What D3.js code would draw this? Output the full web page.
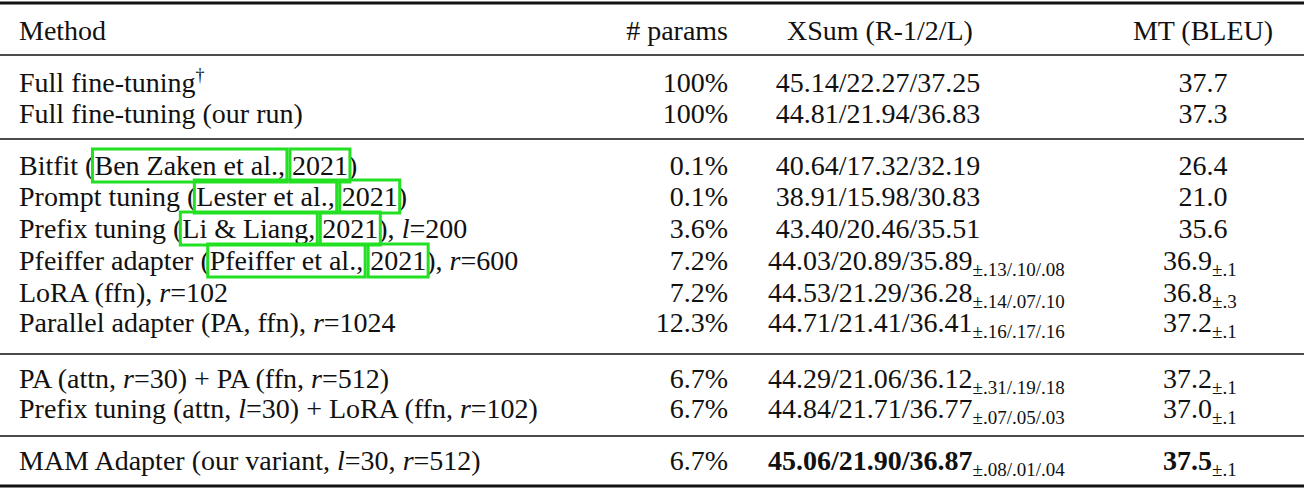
<!DOCTYPE html>
<html><head><meta charset="utf-8">
<script src="https://cdn.jsdelivr.net/npm/d3@7"></script>
<style>body{margin:0;background:#fff}svg text{font-family:"Liberation Serif","DejaVu Serif",serif;fill:#111}</style>
</head><body><svg id="c" width="1304" height="489"></svg>
<script>
const headers = ["Method", "# params", "XSum (R-1/2/L)", "MT (BLEU)"];
const methods = [
  [["Full fine-tuning","n"],["†","s"]],
  [["Full fine-tuning (our run)","n"]],
  [["Bitfit (","n"],["Ben Zaken et al.,","b"],[" ","n"],["2021","b"],[")","n"]],
  [["Prompt tuning (","n"],["Lester et al.,","b"],[" ","n"],["2021","b"],[")","n"]],
  [["Prefix tuning (","n"],["Li & Liang,","b"],[" ","n"],["2021","b"],["), ","n"],["l","i"],["=200","n"]],
  [["Pfeiffer adapter (","n"],["Pfeiffer et al.,","b"],[" ","n"],["2021","b"],["), ","n"],["r","i"],["=600","n"]],
  [["LoRA (ffn), ","n"],["r","i"],["=102","n"]],
  [["Parallel adapter (PA, ffn), ","n"],["r","i"],["=1024","n"]],
  [["PA (attn, ","n"],["r","i"],["=30) + PA (ffn, ","n"],["r","i"],["=512)","n"]],
  [["Prefix tuning (attn, ","n"],["l","i"],["=30) + LoRA (ffn, ","n"],["r","i"],["=102)","n"]],
  [["MAM Adapter (our variant, ","n"],["l","i"],["=30, ","n"],["r","i"],["=512)","n"]]
];
const params = ["100%","100%","0.1%","0.1%","3.6%","7.2%","7.2%","12.3%","6.7%","6.7%","6.7%"];
const xsum = ["45.14/22.27/37.25","44.81/21.94/36.83","40.64/17.32/32.19","38.91/15.98/30.83","43.40/20.46/35.51","44.03/20.89/35.89","44.53/21.29/36.28","44.71/21.41/36.41","44.29/21.06/36.12","44.84/21.71/36.77","45.06/21.90/36.87"];
const xsumStd = ["","","","","","±.13/.10/.08","±.14/.07/.10","±.16/.17/.16","±.31/.19/.18","±.07/.05/.03","±.08/.01/.04"];
const mt = ["37.7","37.3","26.4","21.0","35.6","36.9","36.8","37.2","37.2","37.0","37.5"];
const mtStd = ["","","","","","±.1","±.3","±.1","±.1","±.1","±.1"];
const boldRows = [10];
const rowY = [82,113,165,196,228,260,292,322,378,408,460];
const rules = [[3,3],[55,1.5],[139,1.5],[354,1.5],[436,1.5],[486,3]];

const svg = d3.select("#c");
const FS = 28, SUB = 19;
svg.selectAll("line.r").data(rules).join("line").attr("x1",0).attr("x2",1304)
  .attr("y1",d=>d[0]).attr("y2",d=>d[0]).attr("stroke","#111").attr("stroke-width",d=>d[1]);

const hy = 30;
const hx = [{x:19,a:"start"},{x:728,a:"end"},{x:880,a:"middle"},{x:1203,a:"middle"}];
headers.forEach((h,i)=>svg.append("text").attr("x",hx[i].x).attr("y",hy+10).attr("text-anchor",hx[i].a).attr("font-size",FS).text(h));

methods.forEach((segs,r)=>{
  const t = svg.append("text").attr("x",19).attr("y",rowY[r]+10).attr("font-size",FS);
  segs.forEach(s=>{
    const ts = t.append("tspan").text(s[0]);
    if(s[1]==="i") ts.attr("font-style","italic");
    if(s[1]==="s") ts.attr("font-size",18).attr("dy",-11);
  });
  let idx=0;
  const node=t.node();
  segs.forEach(s=>{
    const len=s[0].length;
    if(s[1]==="b"){
      const x0=node.getStartPositionOfChar(idx).x, x1=node.getEndPositionOfChar(idx+len-1).x;
      svg.append("rect").attr("x",x0-2).attr("y",rowY[r]-16).attr("width",x1-x0+4).attr("height",33)
        .attr("fill","none").attr("stroke","#22e022").attr("stroke-width",3);
    }
    idx+=len;
  });
});

params.forEach((p,r)=>svg.append("text").attr("x",728).attr("y",rowY[r]+10).attr("text-anchor","end").attr("font-size",FS).text(p));

xsum.forEach((v,r)=>{
  const bold = boldRows.includes(r);
  const t = svg.append("text").attr("y",rowY[r]+10).attr("font-size",FS);
  if(xsumStd[r]){ t.attr("x",768); } else { t.attr("x",878).attr("text-anchor","middle"); }
  t.append("tspan").attr("font-weight",bold?"bold":null).text(v);
  if(xsumStd[r]) t.append("tspan").attr("font-size",SUB).attr("dy",6).text(xsumStd[r]);
});
mt.forEach((v,r)=>{
  const bold = boldRows.includes(r);
  const t = svg.append("text").attr("y",rowY[r]+10).attr("font-size",FS);
  if(mtStd[r]){ t.attr("x",1163); } else { t.attr("x",1203).attr("text-anchor","middle"); }
  t.append("tspan").attr("font-weight",bold?"bold":null).text(v);
  if(mtStd[r]) t.append("tspan").attr("font-size",SUB).attr("dy",6).text(mtStd[r]);
});
</script></body></html>
